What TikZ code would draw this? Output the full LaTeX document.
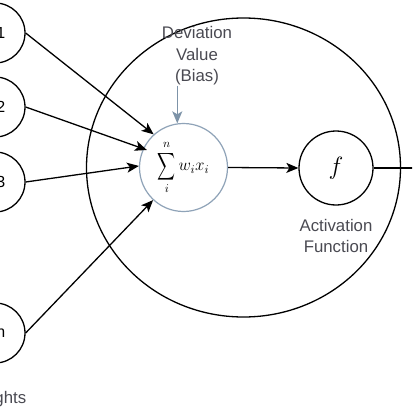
\documentclass[tikz,border=0pt]{standalone}
\usepackage{fix-cm}
\usepackage{exscale}
\usepackage{fontspec}
\usepackage{graphicx}
\setmainfont{Liberation Sans}
\usetikzlibrary{arrows.meta,shapes.geometric}
\definecolor{txtgray}{HTML}{4A4A52}
\definecolor{biasblue}{HTML}{7D93A8}
\definecolor{sumblue}{HTML}{8FA3B8}
\tikzset{
  lw/.style={line width=1.3pt},
  inc/.style={circle, draw=black, lw, minimum size=60pt, inner sep=0pt, font=\fontsize{16}{19}\selectfont},
  sumc/.style={circle, draw=sumblue, line width=1.2pt, minimum size=88pt, inner sep=0pt},
  fc/.style={circle, draw=black, lw, minimum size=74pt, inner sep=0pt},
  lbl/.style={text=txtgray, align=center, inner sep=0pt, font=\fontsize{16.8}{21.5}\selectfont},
  arr/.style={lw, draw=black, -{Stealth[length=12pt,width=10pt,inset=3pt]}},
  biasarr/.style={line width=1.2pt, draw=biasblue, -{Stealth[length=12pt,width=10pt,inset=3pt]}},
}
\begin{document}
\begin{tikzpicture}[x=1pt,y=-1pt]
\useasboundingbox (0,0) rectangle (412,412);
\clip (0,0) rectangle (412,412);
\fill[white] (0,0) rectangle (412,412);
% outer neuron
\node[ellipse, draw=black, lw, minimum width=314pt, minimum height=299pt, inner sep=0pt] (neuron) at (243.5,167.5) {};
% inputs
\node[inc] (in1) at (-5,33) {w1};
\node[inc] (in2) at (-5,107) {w2};
\node[inc] (in3) at (-5,182) {w3};
\node[inc] (inn) at (-5,333) {wn};
\node[lbl, anchor=center] (weights) at (-4,399) {Weights};
% summation
\node[sumc] (sum) at (183.5,167.5) {\fontsize{17}{20}\selectfont$\displaystyle\mathop{\vcenter{\hbox{\scalebox{0.72}[1.1]{$\displaystyle\sum$}}}}\limits_{i}^{n} w_i x_i$};
% activation
\node[fc] (f) at (336,168) {\fontsize{25}{28}\selectfont$f$};
\node[lbl] (act) at (336,236) {Activation\\Function};
% bias
\node[lbl] (bias) at (197,56) {Deviation\\Value\\(Bias)};
\coordinate (out) at (420,168);
% connectors
\draw[arr] (in1.east) -- (sum.132);
\draw[arr, shorten >=-4pt] (in2.east) -- (sum.155);
\draw[arr] (in3.east) -- (sum.178);
\draw[arr] (inn.east) -- (sum.227);
\draw[biasarr] (bias.south -| sum.98) -- (sum.98);
\draw[arr] (sum.east) -- (f.west);
\draw[lw] (f.east) -- (out);
\end{tikzpicture}
\end{document}
